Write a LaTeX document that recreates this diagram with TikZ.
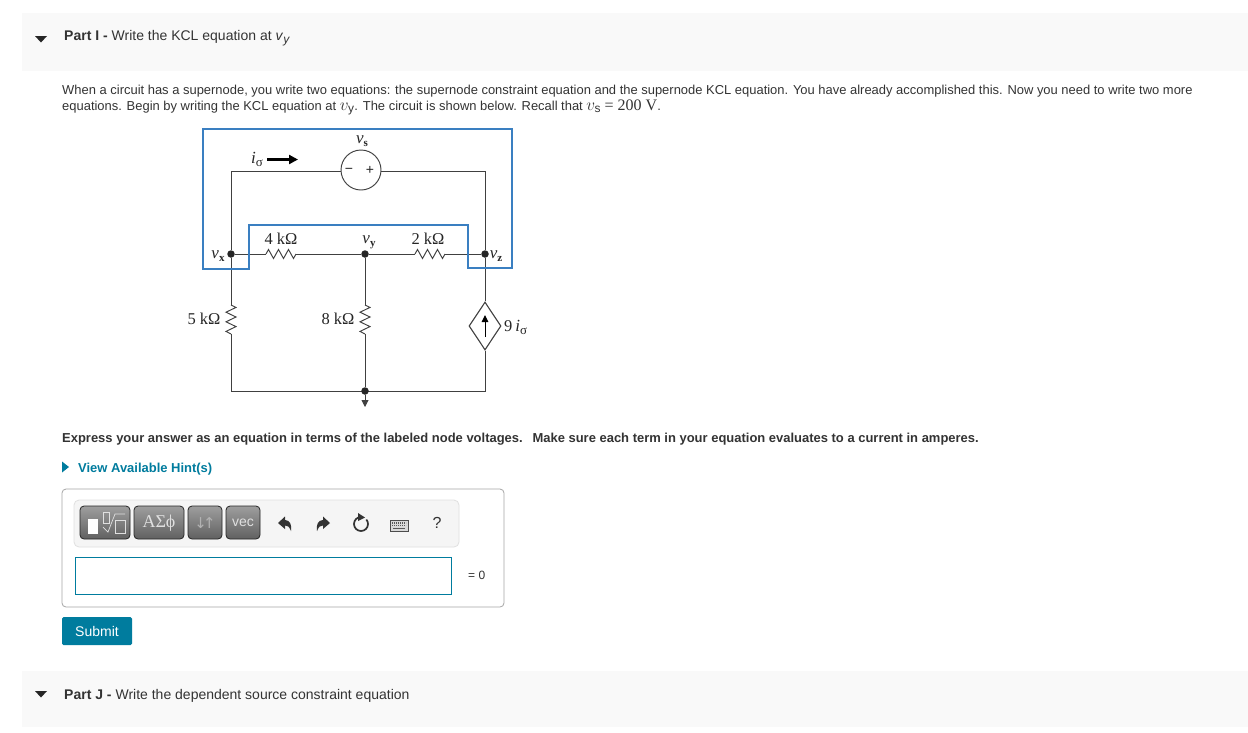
\documentclass[tikz,border=0pt]{standalone}
\usepackage{fontspec}
\setmainfont{Liberation Sans}
\newfontfamily\serifF{Liberation Serif}
\newfontfamily\dejavu{DejaVu Sans}
\usetikzlibrary{arrows.meta,shapes.geometric,backgrounds}
\definecolor{ink}{HTML}{333333}
\definecolor{wire}{HTML}{404040}
\definecolor{superblue}{HTML}{3A7FC1}
\definecolor{teal}{HTML}{007C9E}
\definecolor{hdr}{HTML}{F9F9F9}
\newcommand{\px}[1]{\fontsize{#1}{#1}\selectfont}
\newcommand{\vsub}[2]{{\serifF\itshape\px{17}#1\raisebox{-3pt}{\px{11}\upshape\bfseries #2}}}
\newcommand{\isig}{{\serifF\itshape\px{17}i\raisebox{-3pt}{\px{13}\upshape σ}}}
\tikzset{
  x=1pt,y=-1pt,
  txt/.style={anchor=base west,inner sep=0pt,text=ink,font=\px{14}},
  para/.style={txt,font=\px{12.95}},
  clabel/.style={inner sep=0pt,text=black!85,font=\serifF\px{16.5}},
  wireline/.style={draw=wire,line width=0.95pt},
  dotnode/.style={circle,fill=black!85,inner sep=0pt,minimum size=7.5pt},
  supernode/.style={draw=superblue,line width=1.2pt},
  header/.style={fill=hdr,draw=none},
  tri/.style={fill=black!85,draw=none},
  tool/.style={draw=black!85,line width=0.8pt,rounded corners=4pt,top color=black!38,bottom color=black!62},
  toolicon/.style={inner sep=0pt,text=white!88!black},
  glyphicon/.style={fill=black!80,draw=none},
}
\begin{document}
\begin{tikzpicture}
\useasboundingbox (0,0) rectangle (1248,732);
\begin{pgfonlayer}{background}
\fill[white] (0,0) rectangle (1248,732);
\end{pgfonlayer}
% headers
\fill[header] (22,13) rectangle (1248,71);
\fill[header] (22,671) rectangle (1248,727);
\fill[tri] (35,36) -- (47,36) -- (41,42.5) -- cycle;
\fill[tri] (35,691) -- (47,691) -- (41,697.5) -- cycle;
\node[txt] (parti) at (64,40) {\textbf{Part I -} Write the KCL equation at \textit{v}\raisebox{-3pt}{\px{12}\textit{y}}};
\node[txt] (partj) at (64,699) {\textbf{Part J -} Write the dependent source constraint equation};
% paragraph
\node[para] (p1) at (62,94) {When a circuit has a supernode, you write two equations: the supernode constraint equation and the supernode KCL equation. You have already accomplished this. Now you need to write two more};
\node[para] (p2) at (62,110) {equations. Begin by writing the KCL equation at {\px{17}$v_{\mathrm{y}}$}. The circuit is shown below. Recall that {\px{17}$v_{\mathrm{s}}$} {\serifF\px{16}= 200 V}.};
% circuit nodes
\node[circle,draw=wire,line width=0.95pt,fill=white,minimum size=40pt,inner sep=0pt] (src) at (361,170) {};
\coordinate (tl) at (231,171);
\coordinate (tr) at (485,171);
\node[dotnode] (nx) at (231,254) {};
\node[dotnode] (ny) at (365,254) {};
\node[dotnode] (nz) at (485,254) {};
\node[dotnode] (nb) at (365,391) {};
\coordinate (bl) at (231,391);
\coordinate (br) at (485,391);
\node[diamond,draw=wire,line width=1.1pt,fill=white,minimum width=32pt,minimum height=48pt,inner sep=0pt] (dep) at (485,326) {};
\coordinate (r1a) at (266,254); \coordinate (r1b) at (296,254);
\coordinate (r2a) at (415,254); \coordinate (r2b) at (445,254);
\coordinate (r5a) at (231,305); \coordinate (r5b) at (231,334);
\coordinate (r8a) at (365,305); \coordinate (r8b) at (365,334);
\coordinate (gnd) at (365,407);
\begin{pgfonlayer}{background}
% wires
\draw[wireline] (src.west |- tl) -- (tl) -- (nx) -- (r5a);
\draw[wireline] (src.east |- tr) -- (tr) -- (nz) -- (dep.north);
\draw[wireline] (dep.south) -- (br) -- (bl) -- (r5b);
\draw[wireline] (nx) -- (r1a);
\draw[wireline] (r1b) -- (ny) -- (r2a);
\draw[wireline] (r2b) -- (nz);
\draw[wireline] (ny) -- (r8a);
\draw[wireline] (r8b) -- (nb);
% resistors
\draw[wireline] (r1a) -- ++(2.5,-4.5) -- ++(5,9) -- ++(5,-9) -- ++(5,9) -- ++(5,-9) -- ++(5,9) -- (r1b);
\draw[wireline] (r2a) -- ++(2.5,-4.5) -- ++(5,9) -- ++(5,-9) -- ++(5,9) -- ++(5,-9) -- ++(5,9) -- (r2b);
\draw[wireline] (r5a) -- ++(5,2.4) -- ++(-10,4.8) -- ++(10,4.8) -- ++(-10,4.8) -- ++(10,4.8) -- ++(-10,4.8) -- (r5b);
\draw[wireline] (r8a) -- ++(5,2.4) -- ++(-10,4.8) -- ++(10,4.8) -- ++(-10,4.8) -- ++(10,4.8) -- ++(-10,4.8) -- (r8b);
% ground
\draw[wireline,-{Triangle[length=7pt,width=7pt]}] (nb) -- (gnd);
\end{pgfonlayer}
% supernode
\draw[supernode] (203,129) -- (512,129) -- (512,268) -- (468,268) -- (468,225) -- (249,225) -- (249,269) -- (203,269) -- cycle;
% source signs
\node[inner sep=0pt,font=\px{14},text=black!85] (sm) at (349,171) {−};
\node[inner sep=0pt,font=\px{14},text=black!85] (sp) at (370,170) {+};
% current arrow
\coordinate (ia) at (267,159.5); \coordinate (ib) at (298,159.5);
\draw[black,line width=2.6pt,-{Triangle[length=9pt,width=9pt]}] (ia) -- (ib);
% dep arrow
\coordinate (da) at (485,337); \coordinate (db) at (485,315);
\draw[black,line width=1pt,-{Triangle[length=7pt,width=6.5pt]}] (da) -- (db);
% labels
\node[clabel] (lvs) at (362,141) {\vsub{v}{s}};
\node[clabel] (lio) at (257,159) {\isig};
\node[clabel] (l4k) at (281,239) {4 kΩ};
\node[clabel] (lvy) at (369,242) {\vsub{v}{y}};
\node[clabel] (l2k) at (428,239) {2 kΩ};
\node[clabel] (lvx) at (218,256) {\vsub{v}{x}};
\node[clabel] (lvz) at (496,256) {\vsub{v}{z}};
\node[clabel] (l5k) at (204,319) {5 kΩ};
\node[clabel] (l8k) at (338,319) {8 kΩ};
\node[clabel,anchor=west] (l9i) at (504,327) {9\kern3pt\isig};
% instructions
\node[txt,font=\px{12.97}\bfseries] (expr) at (62,442) {Express your answer as an equation in terms of the labeled node voltages.\hspace{5pt} Make sure each term in your equation evaluates to a current in amperes.};
\fill[teal] (62,461.5) -- (69,467) -- (62,472.5) -- cycle;
\node[txt,font=\px{12.97}\bfseries,text=teal] (hint) at (78,472) {View Available Hint(s)};
% answer box
\draw[draw=black!35,line width=0.8pt,fill=white,rounded corners=4pt] (62,489) rectangle (504,607);
\draw[draw=black!12,line width=0.8pt,fill=black!4,rounded corners=5pt] (74,500) rectangle (459,547);
\draw[tool] (80,506) rectangle (130,539);
\draw[tool] (134,506) rectangle (184,539);
\draw[tool] (188,506) rectangle (222,539);
\draw[tool] (226,506) rectangle (260,539);
% radical icon
\fill[white] (88,519) rectangle (98,534);
\draw[white!88!black,line width=0.7pt] (103,512) rectangle (109,523);
\draw[white!88!black,line width=0.7pt] (103,527) -- (108,532) -- (115,514) -- (125,514);
\draw[white!88!black,line width=0.7pt] (115,520) rectangle (125,533);
\node[toolicon,font=\serifF\px{18}] (greek) at (159,523) {ΑΣϕ};
\node[toolicon,text=white!70!black,font=\dejavu\px{15}] (swap) at (205,523) {↓\kern-4pt↑};
\node[toolicon,font=\px{14}] (vec) at (243,522.5) {vec};
% undo, redo
\fill[glyphicon] (278,523) -- (285,516.5) -- (285,520) .. controls (290,520) and (292,525) .. (291,531) .. controls (289,526.5) and (288,525.5) .. (285,525.5) -- (285,529) -- cycle;
\fill[glyphicon] (330,523) -- (323,516.5) -- (323,520) .. controls (318,520) and (316,525) .. (317,531) .. controls (319,526.5) and (320,525.5) .. (323,525.5) -- (323,529) -- cycle;
% refresh
\draw[black!80,line width=1.7pt] (361,517) arc[start angle=-90,end angle=-400,radius=7];
\fill[glyphicon] (358,513) -- (365,517.5) -- (358,521) -- cycle;
% keyboard
\draw[black!70,fill=black!15,line width=0.8pt] (390,520.5) rectangle (408,531);
\draw[black!65,line width=1.2pt,dash pattern=on 1.2pt off 0.8pt] (392,523) -- (406,523);
\draw[black!65,line width=1.2pt,dash pattern=on 1.2pt off 0.8pt] (392,525.5) -- (406,525.5);
\draw[black!65,line width=1.2pt] (393,528.5) -- (405,528.5);
\node[inner sep=0pt,font=\px{16},text=ink] (help) at (437,523) {?};
% input
\draw[draw=teal,line width=1pt,fill=white] (75,557) rectangle (451,594);
\node[txt,font=\px{12}] (eq0) at (468,579) {= 0};
% submit
\node[fill=teal,text=white,font=\px{14},rounded corners=1.5pt,minimum width=70pt,minimum height=28pt,inner sep=0pt] (submit) at (97,631) {Submit};
\end{tikzpicture}
\end{document}
